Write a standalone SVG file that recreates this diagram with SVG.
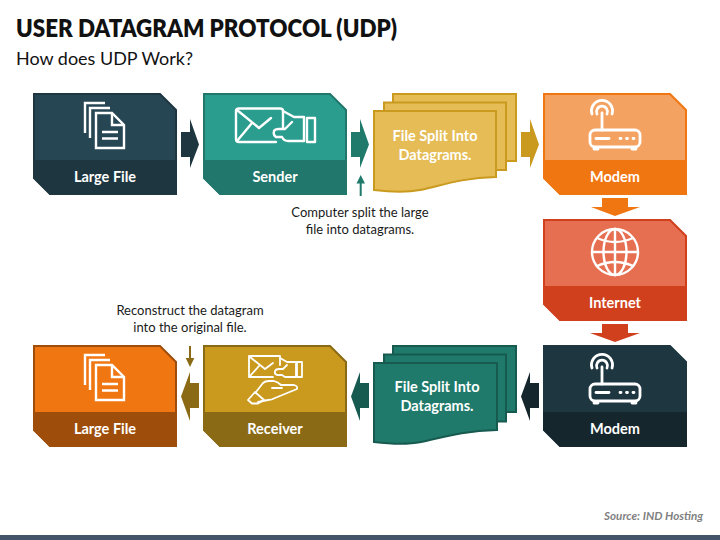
<svg xmlns="http://www.w3.org/2000/svg" xmlns:xlink="http://www.w3.org/1999/xlink" width="720" height="540" viewBox="0 0 720 540">
<style>
text{font-family:"Lato","Open Sans","Liberation Sans",sans-serif;}
.lbl{font-size:14.5px;font-weight:700;fill:#fff;text-anchor:middle}
.note{font-size:13px;fill:#1a1a1a;text-anchor:middle}
.ic{fill:none;stroke:#fff;stroke-width:2.4;stroke-linejoin:round;stroke-linecap:round}
.ics{fill:none;stroke:#fff;stroke-width:1.8;stroke-linejoin:round;stroke-linecap:round}
.icm{fill:none;stroke:#fff;stroke-width:2.4;stroke-linejoin:miter;stroke-linecap:butt}
.icr{fill:none;stroke:#fff;stroke-width:2.8;stroke-linejoin:round;stroke-linecap:round}
</style>
<defs>
<path id="card" d="M1,1H127L143,17V101H17L1,85Z" stroke-width="2"/>
<path id="band" d="M0,67H144V102H17L0,85Z"/>
<g id="docs" class="icm">
<path d="M85,133V103H105"/><path d="M90,138V108H110"/>
<path d="M96,113H112L124,125V148H96Z"/><path d="M112,113V125H124"/>
<path d="M102,132H118M102,138.500H118"/>
</g>
<g id="router" class="icr">
<path d="M592,114A10.500,10.500 0 1 1 612,114M597,114A5.500,5.500 0 1 1 607,114"/>
<path d="M602,113V130"/>
<rect x="590" y="130" width="50" height="17" rx="5"/>
<path d="M596,138.500H609"/>
<path d="M620,138.500H621M626.500,138.500H627.500M633,138.500H634"/>
<path d="M594,149H598M632,149H636"/>
</g>
</defs>
<rect width="720" height="540" fill="#fff"/>
<text x="16" y="37" font-size="24" font-weight="800" fill="#111" textLength="381" lengthAdjust="spacingAndGlyphs">USER DATAGRAM PROTOCOL (UDP)</text>
<text x="16" y="65" font-size="18" fill="#111" textLength="177" lengthAdjust="spacingAndGlyphs">How does UDP Work?</text>

<g id="connectors">
<path fill="#1e3640" d="M181,132H190V119L199,144.500L190,168V157H181Z"/>
<path fill="#1f7a6c" d="M351,132H360V119L369,144.500L360,168V157H351Z"/>
<path fill="#c99a1e" d="M521,132H530V119L539,144.500L530,168V157H521Z"/>
<path fill="#f07612" d="M602,198H628V207H640L615,216L591,207H602Z"/>
<path fill="#d0401c" d="M602,324H628V333H640L615,342L590,333H602Z"/>
<path fill="#16262d" d="M539,383H530V372L521,396.500L530,421V408H539Z"/>
<path fill="#175a50" d="M369,383H360V372L351,396.500L360,421V408H369Z"/>
<path fill="#8a6a14" d="M199,383H190V372L181,396.500L190,421V408H199Z"/>
<path fill="#1f7a6c" d="M360.700,175L365,183.500H361.700V196H359.700V183.500H356.500Z"/>
<path fill="#8a6a14" d="M190,367L185.700,358H189V346H191V358H194.300Z"/>
</g>

<g id="node-large-file-1" transform="translate(33,93)">
<use xlink:href="#card" fill="#264653" stroke="#1e3640"/><use xlink:href="#band" fill="#1e3640"/>
<use xlink:href="#docs" transform="translate(-33,-93)"/>
<text class="lbl" x="72" y="89">Large File</text>
</g>

<g id="node-sender" transform="translate(203,93)">
<use xlink:href="#card" fill="#2a9d8f" stroke="#21776c"/><use xlink:href="#band" fill="#21776c"/>
<g class="ic" transform="translate(-203,-93)">
<path d="M236,111Q236,108.500 239,108.500H280Q283,108.500 283,111V128M236,111V139Q236,142 239,142H276"/>
<path d="M237,110L259,128L271,118M237,141L252,123"/>
<path d="M283,111L294,117H304V141H288Q284,141 282,137H276Q273,135 274,131Q275,129 279,129H285L292,122"/>
<rect x="307" y="118" width="8" height="24"/>
</g>
<text class="lbl" x="72" y="89">Sender</text>
</g>

<g id="node-split-1">
<rect x="393" y="94" width="123" height="67" fill="#e5bc55" stroke="#c99a1e" stroke-width="2"/>
<rect x="384" y="102.500" width="122" height="67.500" fill="#e5bc55" stroke="#c99a1e" stroke-width="2"/>
<path d="M374,111H496V177C460,178 440,186 420,190C405,193 390,192 374,190Z" fill="#e5bc55" stroke="#c99a1e" stroke-width="2"/>
<text class="lbl" x="435" y="141">File Split Into</text>
<text class="lbl" x="435" y="160">Datagrams.</text>
</g>

<g id="node-modem-1" transform="translate(543,93)">
<use xlink:href="#card" fill="#f4a261" stroke="#f07612"/><use xlink:href="#band" fill="#f07612"/>
<use xlink:href="#router" transform="translate(-543,-93)"/>
<text class="lbl" x="72" y="89">Modem</text>
</g>

<g id="node-internet" transform="translate(543,219)">
<use xlink:href="#card" fill="#e76f51" stroke="#d0401c"/><use xlink:href="#band" fill="#d0401c"/>
<g class="ic" transform="translate(-543,-219)">
<circle cx="615" cy="252" r="23"/>
<ellipse cx="615" cy="252" rx="11.500" ry="23"/>
<path d="M615,229V275M592,252H638"/>
<path d="M597,238Q615,246 633,238M597,266Q615,258 633,266"/>
</g>
<text class="lbl" x="72" y="89">Internet</text>
</g>

<g id="node-modem-2" transform="translate(543,345)">
<use xlink:href="#card" fill="#1e3640" stroke="#1e3640"/><use xlink:href="#band" fill="#16262d"/>
<use xlink:href="#router" transform="translate(-543,-91)"/>
<text class="lbl" x="72" y="89">Modem</text>
</g>

<g id="node-split-2">
<rect x="393" y="346" width="123" height="66" fill="#1f7a6c" stroke="#175a50" stroke-width="2"/>
<rect x="384" y="354.500" width="122" height="67" fill="#1f7a6c" stroke="#175a50" stroke-width="2"/>
<path d="M374,363H497V430C461,431 441,438 421,442C406,445 391,444 374,442Z" fill="#1f7a6c" stroke="#175a50" stroke-width="2"/>
<text class="lbl" x="437" y="392">File Split Into</text>
<text class="lbl" x="437" y="411">Datagrams.</text>
</g>

<g id="node-receiver" transform="translate(203,345)">
<use xlink:href="#card" fill="#c99a1e" stroke="#8a6a14"/><use xlink:href="#band" fill="#8a6a14"/>
<g class="ics" transform="translate(-203,-345)">
<path d="M249,356H280V365M249,356V377H273"/>
<path d="M250,357L265,369L273,363M250,376L259,366"/>
<path d="M280,358L287,362H296V377H285L282,375H277Q274,374 275,371Q276,369 279,369H283L287,365"/>
<rect x="297" y="362" width="5" height="15"/>
<path d="M256,392L263,383Q265,381 269,381H274Q278,382 281,385H294Q298,386 297,389L275,398Q272,400 268,400L258,402"/>
<path d="M272,388H282"/>
<path d="M248,400L255,392L264,400L258,403.500H252Z"/>
</g>
<text class="lbl" x="72" y="89">Receiver</text>
</g>

<g id="node-large-file-2" transform="translate(33,345)">
<use xlink:href="#card" fill="#f07612" stroke="#9e4e0a"/><use xlink:href="#band" fill="#9e4e0a"/>
<use xlink:href="#docs" transform="translate(-33,-93)"/>
<text class="lbl" x="72" y="89">Large File</text>
</g>

<text class="note" x="360" y="217">Computer split the large</text>
<text class="note" x="360" y="234">file into datagrams.</text>
<text class="note" x="190" y="315">Reconstruct the datagram</text>
<text class="note" x="190" y="332">into the original file.</text>
<text x="703" y="520" font-size="11.600" font-weight="700" font-style="italic" fill="#7f7f7f" text-anchor="end">Source: IND Hosting</text>
<rect y="535" width="720" height="5" fill="#44546a"/>
</svg>
